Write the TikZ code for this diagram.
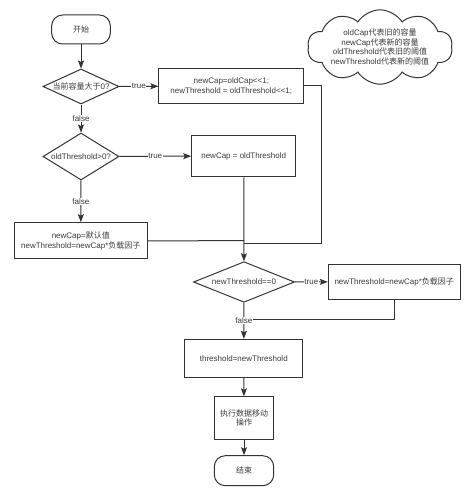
\documentclass[tikz,border=0pt]{standalone}
\usepackage{fontspec}
\setmainfont{Liberation Sans}
\newfontfamily\cjk{Noto Sans CJK SC}
\usetikzlibrary{shapes.geometric,shapes.symbols,arrows.meta}
\newcommand{\zh}[1]{{\cjk #1}}
\newcommand{\shl}{\textless\kern0pt\textless}
\definecolor{ln}{HTML}{333333}
\definecolor{tx}{HTML}{3A3A3A}
\tikzset{
  base/.style={draw=ln, line width=1pt, text=tx, font=\fontsize{8}{9.6}\selectfont, align=center, inner sep=0pt},
  procbox/.style={base, rectangle},
  termbox/.style={base, rectangle, rounded corners=11pt},
  decbox/.style={base, diamond, aspect=2.2},
  conn/.style={draw=ln, line width=1pt},
  arr/.style={conn, -{Stealth[length=8pt,width=6pt,inset=1.5pt]}},
  lbl/.style={fill=white, text=tx, font=\fontsize{8}{9.6}\selectfont, inner sep=0.5pt},
}
\begin{document}
\begin{tikzpicture}[x=1pt,y=-1pt]
\useasboundingbox (0,0) rectangle (474,500);
\node[termbox, minimum width=58.7pt, minimum height=29pt] (start) at (81,29.5) {\zh{开始}};
\node[decbox, minimum width=76pt, minimum height=35pt] (d1) at (81,86.5) {\zh{当前容量大于}0?};
\node[procbox, minimum width=144.7pt, minimum height=35.7pt] (b1) at (231.3,86) {newCap=oldCap\shl1;\\newThreshold = oldThreshold\shl1;};
\node[decbox, minimum width=76pt, minimum height=47pt] (d2) at (81,156.5) {oldThreshold\textgreater0?};
\node[procbox, minimum width=104pt, minimum height=41.7pt] (b2) at (243.7,156) {newCap = oldThreshold};
\node[procbox, minimum width=133pt, minimum height=36.3pt] (b3) at (80.8,240.8) {newCap=\zh{默认值}\\newThreshold=newCap*\zh{负载因子}};
\node[decbox, minimum width=101pt, minimum height=40.6pt] (d3) at (244,282) {newThreshold==0};
\node[procbox, minimum width=131.7pt, minimum height=35pt] (b4) at (394.2,281.8) {newThreshold=newCap*\zh{负载因子}};
\node[procbox, minimum width=117.7pt, minimum height=38.4pt] (b5) at (243.8,358.5) {threshold=newThreshold};
\node[procbox, minimum width=59.4pt, minimum height=42.3pt] (b6) at (244,418) {\zh{执行数据移动}\\\zh{操作}};
\node[termbox, minimum width=59.4pt, minimum height=30pt] (end) at (244,470.7) {\zh{结束}};
\node[base, cloud, cloud puffs=10, cloud puff arc=115, aspect=2.6, minimum width=145pt, minimum height=54pt, font=\fontsize{8}{9.5}\selectfont] (note) at (380,47) {oldCap\zh{代表旧的容量}\\newCap\zh{代表新的容量}\\oldThreshold\zh{代表旧的阈值}\\newThreshold\zh{代表新的阈值}};

\coordinate (j1) at (321.3,86);
\coordinate (j2) at (321.3,243);
\coordinate (j3) at (244,243);
\coordinate (j4) at (244,240.7);
\coordinate (j5) at (394.2,319);
\coordinate (j6) at (244,319);

\draw[arr] (start) -- (d1);
\draw[arr] (d1) -- node[lbl] {true} (b1);
\draw[arr] (d1) -- node[lbl] {false} (d2);
\draw[arr] (d2) -- node[lbl] {true} (b2);
\draw[arr] (d2) -- node[lbl] {false} (b3);
\draw[conn] (b1.east) -- (j1) -- (j2) -- (j3);
\draw[conn] (b3.east) -- (j4);
\draw[arr] (b2) -- (d3);
\draw[arr] (d3) -- node[lbl] {true} (b4);
\draw[conn] (b4.south) -- (j5) -- (j6);
\draw[arr] (d3) -- node[lbl, pos=0.5] {false} (b5);
\draw[arr] (b5) -- (b6);
\draw[arr] (b6) -- (end);
\end{tikzpicture}
\end{document}
